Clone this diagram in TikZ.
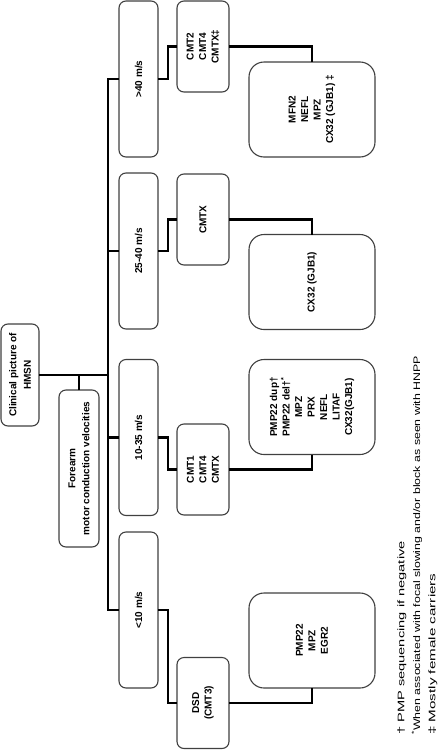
\documentclass[tikz,border=0pt]{standalone}
\usepackage{fontspec}
\setmainfont{Liberation Sans}
\usepackage{tikz}

\begin{document}
\begin{tikzpicture}[x=1pt, y=-1pt]
\tikzset{
    box/.style={
        rectangle, rotate=90,
        draw=black!75, line width=1.1pt, fill=white,
        rounded corners=7pt, outer sep=0pt, inner sep=2pt,
        align=center,
        font=\fontsize{10}{12.5}\selectfont\bfseries
    },
    speed box/.style={box, minimum width=156pt, minimum height=39pt},
    type box/.style={box, minimum width=91pt, minimum height=52pt},
    gene box/.style={box, rounded corners=15pt, minimum width=95pt, minimum height=126pt},
    link/.style={line width=2.4pt, draw=black},
    note/.style={rotate=90, anchor=west, inner sep=0pt, font=\fontsize{9.5}{11}\selectfont}
}
\useasboundingbox (0,0) rectangle (444,750);

% Start boxes
\node[box, minimum width=102pt, minimum height=38pt,
      font=\fontsize{10}{14.5}\selectfont\bfseries] (clinical) at (20,375) {Clinical picture of\\HMSN};
\node[box, minimum width=157pt, minimum height=40pt,
      font=\fontsize{10}{14}\selectfont\bfseries] (forearm) at (79,468.5) {Forearm\\motor conduction velocities};

% Velocities
\node[speed box] (fast)  at (138.5,79)    {>40 m/s};
\node[speed box] (mid)   at (138.5,251)   {25-40 m/s};
\node[speed box] (slow)  at (138.5,437.5) {10-35 m/s};
\node[speed box] (vslow) at (138.5,610)   {<10 m/s};

% Types
\node[type box] (cmtA) at (203,46.5)  {CMT2\\CMT4\\CMTX‡};
\node[type box] (cmtB) at (203,219.5) {CMTX};
\node[type box] (cmtC) at (203,469.5) {CMT1\\CMT4\\CMTX};
\node[type box] (dsd)  at (203,703)   {DSD\\(CMT3)};

% Genes
\node[gene box] (genesA) at (312,109.5) {MFN2\\NEFL\\MPZ\\CX32 (GJB1) ‡};
\node[gene box] (genesB) at (312,282)   {CX32 (GJB1)};
\node[gene box] (genesC) at (312,407)   {PMP22 dup†\\PMP22 del†\textsuperscript{*}\\MPZ\\PRX\\NEFL\\LITAF\\CX32(GJB1)};
\node[gene box] (genesD) at (312,640.5) {PMP22\\MPZ\\EGR2};

% Lines
\coordinate (hub) at (108,375);
\draw[link] (fast.north) -- ++(-11,0) |- (vslow.north);
\draw[link] (mid.north)  -- ++(-11,0);
\draw[link] (slow.north) -- ++(-11,0);
\draw[link] (clinical.south) -- (hub);
\draw[link] (forearm.east) -- (forearm.east |- hub);

\draw[link] (fast.south)  -- ++(10,0) |- (cmtA.north);
\draw[link] (mid.south)   -- ++(10,0) |- (cmtB.north);
\draw[link] (slow.south)  -- ++(10,0) |- (cmtC.north);
\draw[link] (vslow.south) -- ++(10,0) |- (dsd.north);

\draw[link] (cmtA.south) -| (genesA.east);
\draw[link] (cmtB.south) -| (genesB.east);
\draw[link] (cmtC.south) -| (genesC.west);
\draw[link] (dsd.south)  -| (genesD.west);

% Footnotes
\node[note] (dagnote)  at (402,735) {\scalebox{1.54}[1]{† PMP sequencing if negative}};
\node[note] (starnote) at (417,735) {\scalebox{1.3}[1]{\textsuperscript{*}When associated with focal slowing and/or block as seen with HNPP}};
\node[note] (ddagnote) at (433,735) {\scalebox{1.6}[1]{‡ Mostly female carriers}};
\end{tikzpicture}
\end{document}
